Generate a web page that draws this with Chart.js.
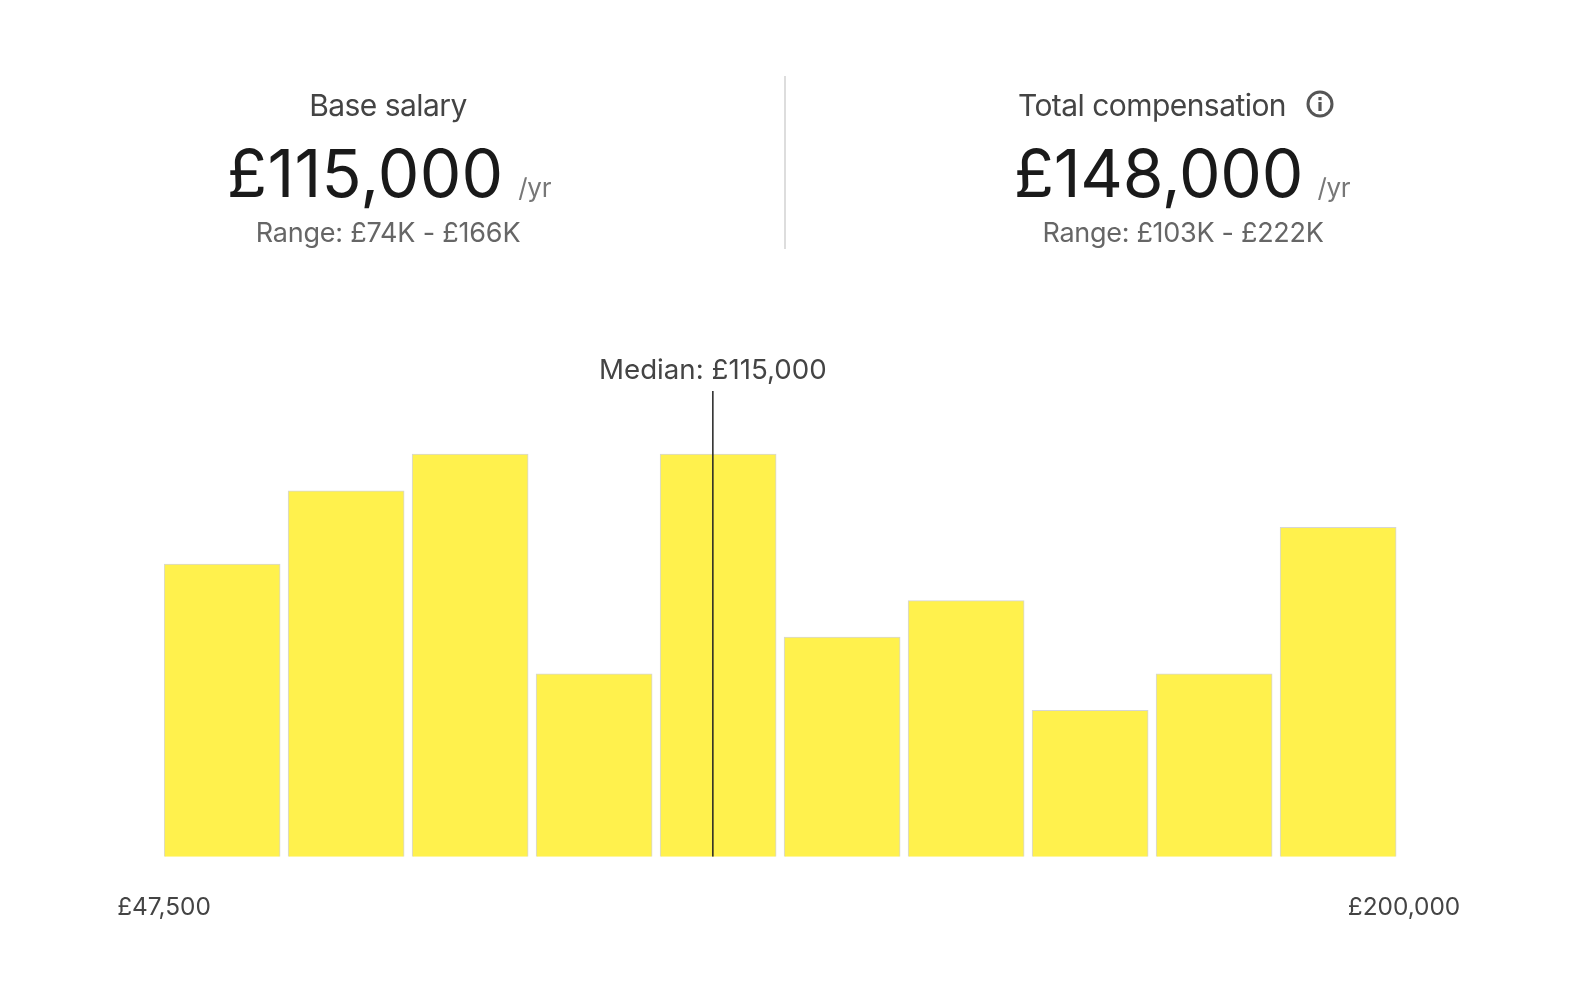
<!DOCTYPE html>
<html>
<head>
<meta charset="utf-8">
<title>Salary distribution</title>
<script src="https://cdn.jsdelivr.net/npm/chart.js@4"></script>
<style>
  html, body { margin: 0; padding: 0; background: #fff; }
  body { position: relative; width: 1570px; height: 982px; overflow: hidden; font-family: Inter, sans-serif; }
  #salaryChart { position: absolute; left: 0; top: 0; }
  .line { position: absolute; white-space: nowrap; transform: translateX(-50%); }
  .title { top: 86px; font-size: 30px; line-height: 38px; color: #444; letter-spacing: -0.55px; }
  .amount { top: 134px; font-size: 66px; line-height: 78px; color: #1a1a1a; }
  .amount span { font-size: 26px; color: #777; letter-spacing: -0.3px; margin-left: -4px; }
  .range { top: 216px; font-size: 27px; line-height: 34px; color: #666; letter-spacing: -0.2px; }
  .divider { position: absolute; left: 784px; top: 76px; width: 2px; height: 173px; background: #ddd; }
  .info { position: absolute; left: 1306px; top: 90px; }
</style>
</head>
<body>
<canvas id="salaryChart" width="1570" height="982"></canvas>

<div class="line title" style="left:388px">Base salary</div>
<div class="line amount" style="left:389px;letter-spacing:0.25px">£115,000 <span>/yr</span></div>
<div class="line range" style="left:388px">Range: £74K - £166K</div>
<div class="divider"></div>
<div class="line title" style="left:1152px">Total compensation</div>
<svg class="info" width="28" height="28" viewBox="0 0 28 28">
  <circle cx="14" cy="14" r="12" fill="none" stroke="#555" stroke-width="3"/>
  <rect x="12.4" y="12" width="3.2" height="9" fill="#555"/>
  <rect x="12.4" y="7" width="3.2" height="3.2" fill="#555"/>
</svg>
<div class="line amount" style="left:1182px;letter-spacing:-0.25px">£148,000 <span>/yr</span></div>
<div class="line range" style="left:1183px;letter-spacing:-0.3px">Range: £103K - £222K</div>

<script>
// Histogram data
const binCenters = [54650, 69900, 85150, 100400, 115650, 130900, 146150, 161400, 176650, 191900];
const counts = [8, 10, 11, 5, 11, 6, 7, 4, 5, 9];
const xTicks = [47500, 200000];
const median = 115000;
const medianTop = 12.73;

const gbp = (v) => '£' + v.toLocaleString('en-GB');

// Writes the median caption just above the marker line
const medianLabel = {
  id: 'medianLabel',
  afterDraw(chart) {
    const { ctx, scales } = chart;
    ctx.save();
    ctx.font = '27.7px Inter, sans-serif';
    ctx.fillStyle = '#444';
    ctx.textAlign = 'center';
    ctx.textBaseline = 'middle';
    ctx.fillText('Median: ' + gbp(median), scales.x.getPixelForValue(median), scales.y.getPixelForValue(medianTop) - 20);
    ctx.restore();
  }
};

new Chart(document.getElementById('salaryChart'), {
  type: 'bar',
  plugins: [medianLabel],
  data: {
    datasets: [
      {
        type: 'line',
        order: 0,
        data: [{ x: median, y: 0 }, { x: median, y: medianTop }],
        borderColor: '#222',
        borderWidth: 1.5,
        pointRadius: 0
      },
      {
        type: 'bar',
        order: 1,
        data: binCenters.map((x, i) => ({ x, y: counts[i] })),
        backgroundColor: '#fff14d',
        borderColor: 'rgba(120,120,120,0.3)',
        borderWidth: 1,
        barThickness: 116
      }
    ]
  },
  options: {
    responsive: false,
    animation: false,
    layout: { padding: { left: 164, right: 166, top: 381, bottom: 32 } },
    plugins: { legend: { display: false }, tooltip: { enabled: false } },
    scales: {
      x: {
        type: 'linear',
        min: xTicks[0],
        max: xTicks[1],
        offset: false,
        afterBuildTicks: (scale) => { scale.ticks = xTicks.map((value) => ({ value })); },
        grid: { display: false },
        border: { display: false },
        ticks: {
          autoSkip: false,
          maxRotation: 0,
          padding: 28,
          color: '#444',
          font: { family: 'Inter, sans-serif', size: 24.4 },
          callback: (v) => gbp(v)
        }
      },
      y: { display: false, min: 0, max: 13 }
    }
  }
});
</script>
</body>
</html>
